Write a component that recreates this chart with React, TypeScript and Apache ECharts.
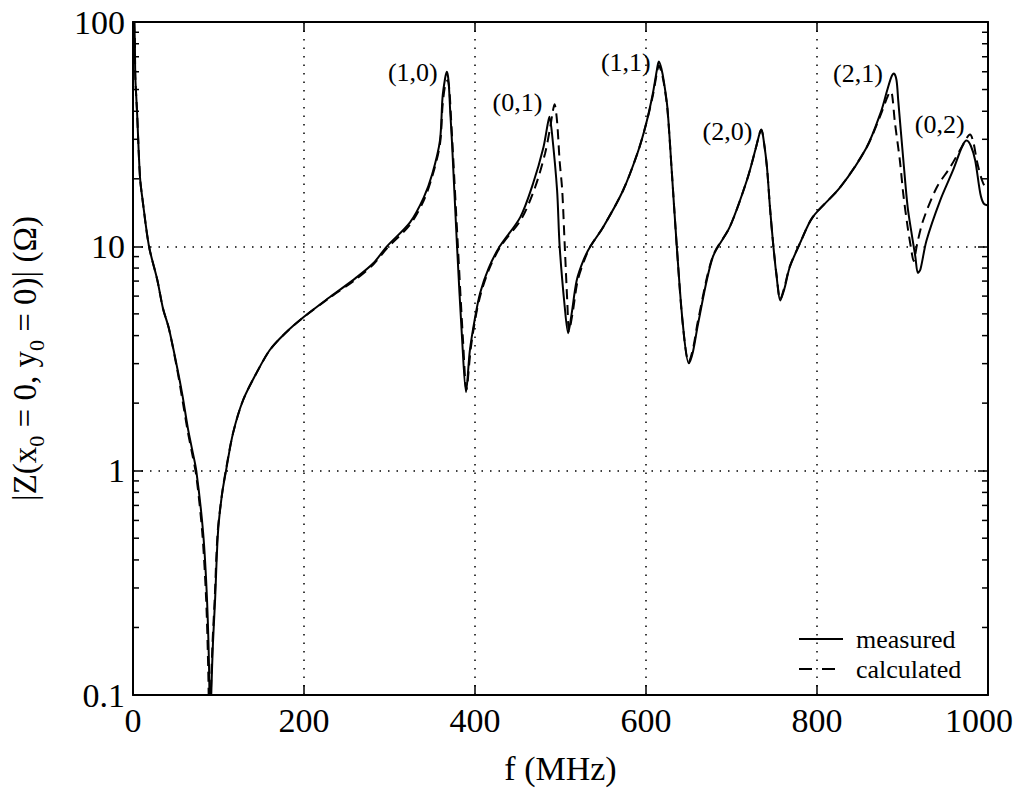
import React, { useEffect, useRef } from "react";
import * as echarts from "echarts";

// Input impedance magnitude at the feed point, measured vs. calculated
const measuredFreq = [
  1.5, 2.2, 2.7, 4.7, 8.2, 11.3, 18.7, 28.5, 35, 42, 51.5, 58, 64, 69, 74, 82, 86.5, 89, 90.2, 91.5,
  93.5, 96, 99.4, 104, 108.8, 117, 128.7, 145, 160, 178, 200, 230, 260, 281, 297, 324, 340, 350, 359, 362,
  365, 367, 369, 371, 373, 379, 385, 389.5, 394, 400, 406, 416, 429, 453, 468, 480, 485, 487, 490, 496,
  499, 505, 509, 513, 519, 527, 535, 550, 573, 590, 600, 608, 613, 615, 618, 621, 625, 630, 636, 643,
  650, 655, 661, 678, 698, 718, 728, 733, 735, 738, 741.5, 745, 749, 753, 757, 762, 768, 780, 795, 827,
  858, 875, 882, 887, 890, 893, 895, 901, 906, 911, 915, 918, 921, 928, 944, 959, 970, 975, 980, 985,
  991, 995, 1000,
];
const measuredZ = [
  100, 80, 57, 40, 20.3, 16, 10, 7.06, 5.3, 4.3, 2.9, 2.15, 1.56, 1.25, 1.0, 0.53, 0.27, 0.13, 0.06, 0.1,
  0.17, 0.265, 0.53, 0.78, 1.0, 1.47, 2.06, 2.75, 3.45, 4.1, 4.85, 5.93, 7.2, 8.4, 10, 12.8, 16.5, 21, 29.6, 46,
  56, 60, 55, 40, 29.6, 10, 3.81, 2.24, 3.44, 4.8, 6.2, 8.0, 10, 13.5, 19.1, 27.6, 35, 37.8, 32, 17.8,
  10, 5.35, 4.1, 5.0, 7.06, 8.7, 10, 12.2, 17.7, 26, 35, 48, 62, 66.7, 62, 54, 41.6, 22, 10, 4.54,
  3.01, 3.4, 4.54, 8.93, 12.2, 19.7, 27, 32, 33.2, 29, 22.5, 14.9, 10, 7.2, 5.74, 6.5, 8.05, 10.3, 13.5, 18.3,
  27.6, 40, 49.5, 57, 59, 55, 44.7, 24.2, 15, 11.2, 9.0, 7.6, 7.9, 10.6, 16, 21.8, 28, 29.6, 28, 24.2,
  17.2, 15.5, 15.2,
];

const calculatedFreq = [
  1.5, 2.2, 2.7, 4.7, 8.2, 11.3, 18.7, 28.5, 35, 42, 51.5, 58, 64, 69, 74, 81, 85.5, 88, 89.5, 91,
  93, 95.5, 99, 104, 108.5, 117, 128.7, 145, 160, 178, 200, 230, 260, 281, 297, 324, 340, 350, 359, 362,
  365, 368, 370, 372, 374, 380, 386, 390, 395, 401, 407, 417, 430, 454, 470, 482, 488, 491, 493, 496,
  499, 502, 505, 508, 510, 514, 520, 528, 535, 550, 573, 590, 600, 608, 613, 615, 618, 621, 625, 630,
  636, 643, 650, 655, 661, 678, 698, 718, 728, 733, 735, 738, 741.5, 745, 749, 753, 757, 762, 768, 780,
  795, 827, 858, 875, 882, 886, 888, 891, 897, 901, 906, 910, 913, 917, 924, 940, 956, 970, 979, 983,
  987, 993, 997, 1000,
];
const calculatedZ = [
  100, 80, 57, 40, 20.3, 16, 10, 7.06, 5.3, 4.3, 2.85, 2.05, 1.5, 1.2, 0.95, 0.53, 0.27, 0.13, 0.06, 0.1,
  0.17, 0.265, 0.53, 0.78, 1.0, 1.47, 2.06, 2.75, 3.45, 4.1, 4.85, 5.9, 7.1, 8.3, 9.8, 12.5, 16, 20.5, 28.5, 42,
  52, 55, 50, 37, 27, 10, 3.8, 2.3, 3.5, 4.9, 6.2, 8.0, 10, 13.2, 18.2, 26, 34, 40, 43, 36,
  24, 17.8, 10, 5.6, 4.2, 5.0, 7.0, 8.7, 10, 12.2, 17.7, 26, 35, 47, 60, 64, 60, 53, 41, 22,
  10, 4.5, 3.05, 3.5, 4.7, 9.0, 12.2, 19.7, 27, 32, 33, 29, 22.5, 14.9, 10, 7.3, 5.8, 6.6, 8.1, 10.3,
  13.5, 18.3, 27.6, 39, 46, 49, 47, 36, 24, 17, 12.2, 9.8, 8.6, 10.2, 13, 18.3, 22.6, 28, 31.5, 29,
  24, 19.7, 18.5, 19,
];

// Resonant mode labels, anchored at the measured peak frequency
const modeNames = ["(1,0)", "(0,1)", "(1,1)", "(2,0)", "(2,1)", "(0,2)"];
const modePeakFreq = [367, 487, 615, 735, 890, 975];

// Minor ticks on the logarithmic impedance axis
const yMinorTicks = [0.2, 0.3, 0.4, 0.5, 0.6, 0.7, 0.8, 0.9, 2, 3, 4, 5, 6, 7, 8, 9, 20, 30, 40, 50, 60, 70, 80, 90];

const SERIF = "Liberation Serif, Times New Roman, serif";
const labelOffsets: [number, number][] = [
  [-34, 1],
  [-32, -14],
  [-33, 1],
  [-34, 2],
  [-36, 0],
  [-27, -16],
];

const zip = (xs: number[], ys: number[]) => xs.map((x, i) => [x, ys[i]]);

export default function App() {
  const ref = useRef<HTMLDivElement>(null);

  useEffect(() => {
    if (!ref.current) return;
    const chart = echarts.init(ref.current, null, { renderer: "svg" });

    const axisLine = { show: true, onZero: false, lineStyle: { color: "#000", width: 2 } };
    const tick = { show: true, inside: true, length: 10, lineStyle: { color: "#000", width: 1.5 } };
    const dotted = { show: true, lineStyle: { color: "#000", width: 1.5, type: [1.5, 7] as number[] } };

    const markData = modeNames.map((name, i) => {
      const f = modePeakFreq[i];
      const idx = measuredFreq.indexOf(f);
      return {
        name,
        coord: [f, measuredZ[idx]],
        label: { offset: labelOffsets[i] },
      };
    });

    chart.setOption({
      animation: false,
      backgroundColor: "#fff",
      grid: { left: 133, right: 26, top: 22, bottom: 102, containLabel: false, outerBoundsMode: "none" },
      legend: {
        data: [
          { name: "measured" },
          { name: "calculated", lineStyle: { type: [13, 10] } },
        ],
        orient: "vertical",
        left: 793,
        top: 621,
        itemWidth: 44,
        itemHeight: 14,
        itemGap: 4,
        itemStyle: { opacity: 0 },
        textStyle: { fontFamily: SERIF, fontSize: 26, color: "#000", padding: [0, 0, 0, 8] },
      },
      xAxis: [
        {
          type: "value",
          min: 0,
          max: 1000,
          interval: 200,
          position: "bottom",
          axisLine,
          axisTick: tick,
          splitLine: dotted,
          axisLabel: {
            fontFamily: SERIF,
            fontSize: 34,
            color: "#000",
            margin: 8,
            // the last label is nudged left so it stays on the page
            formatter: (v: number) => (v === 1000 ? "{r|" + v + "}" : String(v)),
            rich: { r: { fontFamily: SERIF, fontSize: 34, color: "#000", padding: [0, 18, 0, 0] } },
          },
          name: "f (MHz)",
          nameLocation: "middle",
          nameGap: 56,
          nameTextStyle: { fontFamily: SERIF, fontSize: 34, color: "#000" },
        },
        {
          type: "value",
          min: 0,
          max: 1000,
          interval: 200,
          position: "top",
          axisLine,
          axisTick: tick,
          axisLabel: { show: false },
          splitLine: { show: false },
        },
      ],
      yAxis: [
        {
          type: "log",
          logBase: 10,
          min: 0.1,
          max: 100,
          position: "left",
          axisLine,
          axisTick: tick,
          splitLine: dotted,
          axisLabel: {
            fontFamily: SERIF,
            fontSize: 34,
            color: "#000",
            margin: 8,
            formatter: (v: number) => String(Number(v.toPrecision(3))),
          },
          name: "|Z(x{s|0} = 0, y{s|0} = 0)| (Ω)",
          nameLocation: "middle",
          nameGap: 86,
          nameTextStyle: {
            fontFamily: SERIF,
            fontSize: 33,
            color: "#000",
            lineHeight: 44,
            rich: {
              s: { fontFamily: SERIF, fontSize: 22, color: "#000", lineHeight: 22, verticalAlign: "bottom" },
            },
          },
        },
        {
          type: "log",
          logBase: 10,
          min: 0.1,
          max: 100,
          position: "right",
          axisLine,
          axisTick: tick,
          axisLabel: { show: false },
          splitLine: { show: false },
        },
      ],
      series: [
        {
          name: "calculated",
          type: "line",
          data: zip(calculatedFreq, calculatedZ),
          showSymbol: false,
          symbol: "none",
          smooth: 0.3,
          clip: true,
          z: 3,
          lineStyle: { color: "#000", width: 2, type: [10, 6] },
          itemStyle: { color: "#000" },
        },
        {
          name: "measured",
          type: "line",
          data: zip(measuredFreq, measuredZ),
          showSymbol: false,
          symbol: "none",
          smooth: 0.3,
          clip: true,
          z: 4,
          lineStyle: { color: "#000", width: 2 },
          itemStyle: { color: "#000" },
          markPoint: {
            symbol: "circle",
            symbolSize: 0,
            silent: true,
            label: {
              show: true,
              position: "inside",
              formatter: "{b}",
              fontFamily: SERIF,
              fontSize: 26,
              color: "#000",
            },
            data: markData,
          },
        },
        {
          // log-spaced minor ticks on the left and right frames
          type: "custom",
          silent: true,
          clip: false,
          z: 5,
          data: yMinorTicks.map((v) => [0, v]),
          renderItem: (params: any, api: any) => {
            const cs = params.coordSys;
            const y = api.coord([0, api.value(1)])[1];
            const style = { stroke: "#000", lineWidth: 1.5 };
            return {
              type: "group",
              children: [
                { type: "line", shape: { x1: cs.x, y1: y, x2: cs.x + 6, y2: y }, style },
                { type: "line", shape: { x1: cs.x + cs.width - 6, y1: y, x2: cs.x + cs.width, y2: y }, style },
              ],
            };
          },
        },
      ],
    });

    return () => chart.dispose();
  }, []);

  return (
    <div
      ref={ref}
      style={{ position: "absolute", left: 0, top: 0, width: 1014, height: 797, background: "#fff" }}
    />
  );
}
